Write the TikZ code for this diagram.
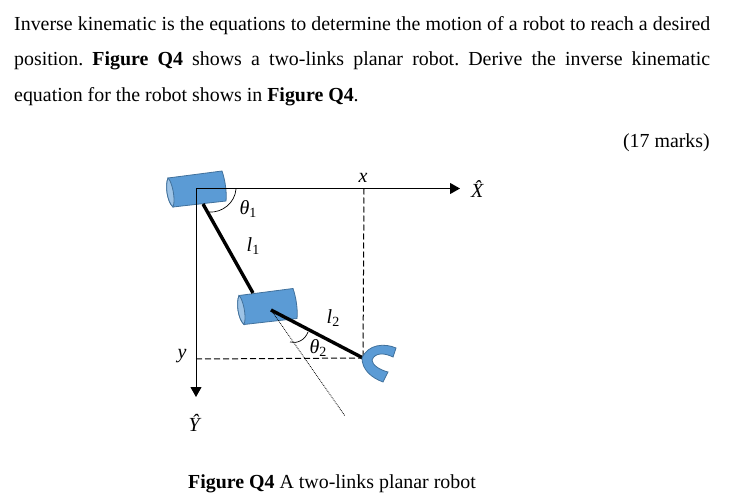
\documentclass[tikz,border=0pt]{standalone}
\usepackage{fontspec}
\setmainfont{Liberation Serif}
\usetikzlibrary{arrows.meta}
\definecolor{B1}{RGB}{91,155,213}
\definecolor{B2}{RGB}{157,195,230}
\definecolor{B3}{RGB}{65,113,156}
\newcommand{\thetasym}[1]{\textit{θ}\raisebox{-3pt}{\fontsize{14}{14}\selectfont #1}}
\newcommand{\lsym}[1]{\textit{l}\raisebox{-3pt}{\fontsize{14}{14}\selectfont #1}}
\tikzset{
  bodytext/.style={inner sep=0pt, font=\fontsize{19.9}{35.5}\selectfont},
  sym/.style={inner sep=0pt, font=\fontsize{20}{22}\selectfont},
  axisline/.style={line width=1pt, -{Triangle[length=10pt,width=11pt]}},
  guide/.style={line width=1pt, dash pattern=on 6pt off 3pt},
  link/.style={line width=3.4pt},
  joint/.pic={
    \draw[B3, fill=B1, line width=0.8pt] (-29,-11.5) -- (25,-18.5) .. controls (28,-10) and (30,3) .. (29,11.5) -- (-24,17.5) .. controls (-30,12) and (-32,-4) .. (-29,-11.5) -- cycle;
    \draw[B3, fill=B2, line width=0.8pt] (-29,-11.5) .. controls (-25,-8) and (-21,10) .. (-24,17.5) .. controls (-30,12) and (-32,-4) .. (-29,-11.5) -- cycle;
  }
}
\begin{document}
\begin{tikzpicture}[x=1pt,y=-1pt]
  \useasboundingbox (0,0) rectangle (731,495);
  \node[bodytext, anchor=north west, text width=696pt, align=justify] (question) at (14,16) {\frenchspacing Inverse kinematic is the equations to determine the motion of a robot to reach a desired\linebreak position. \textbf{Figure Q4} shows a two-links planar robot. Derive the inverse kinematic\linebreak equation for the robot shows in \textbf{Figure Q4}.};
  \node[bodytext, anchor=base east] (marks) at (710,147) {(17 marks)};
  \node[bodytext, anchor=base west] (caption) at (188,488) {\textbf{Figure Q4} A two-links planar robot};

  \coordinate (base) at (196,188.5);
  \coordinate (xend) at (460,188.5);
  \coordinate (yend) at (196,397);
  \coordinate (xtick) at (364,188.5);
  \coordinate (ytick) at (196,359);
  \coordinate (wrist) at (363,358);
  \coordinate (elbow) at (271,310);
  \coordinate (shoulder) at (203,204);
  \coordinate (elbowtop) at (253,293);
  \coordinate (extend) at (345,416);

  \pic at (197,189.5) {joint};
  \pic at (268,307) {joint};

  \draw[axisline] (base)--(xend);
  \draw[axisline] (base)--(yend);
  \draw[guide] (xtick)--(wrist);
  \draw[guide] (ytick)--(wrist);
  \draw[link] (shoulder)--(elbowtop);
  \draw[link] (elbow)--(wrist);
  \draw[line width=0.8pt, densely dotted] (elbow)--(extend);

  \draw[line width=0.7pt] (236,189) .. controls (235,203) and (222,213) .. (209,212);
  \draw[line width=0.7pt] (308,332) .. controls (305,340) and (297,344) .. (290,342);

  \draw[B3, fill=B1, line width=0.8pt] (396,348) .. controls (385,343) and (368,344) .. (362,358) .. controls (362,370) and (372,378) .. (383,382) -- (388,372) .. controls (380,370) and (372,365) .. (372,360) .. controls (375,352) and (385,353) .. (393,357) -- cycle;

  \node[sym] (thetaone) at (248,209) {\thetasym{1}};
  \node[sym] (lone) at (253,246) {\lsym{1}};
  \node[sym] (ltwo) at (333,318) {\lsym{2}};
  \node[sym] (thetatwo) at (318,348) {\thetasym{2}};
  \node[sym] (xlabel) at (363,178) {\textit{x}};
  \node[sym] (Xhat) at (481,189) {\textit{\^X}};
  \node[sym] (ylabel) at (182,356) {\textit{y}};
  \node[sym] (Yhat) at (195,423) {\textit{\^Y}};
\end{tikzpicture}
\end{document}
